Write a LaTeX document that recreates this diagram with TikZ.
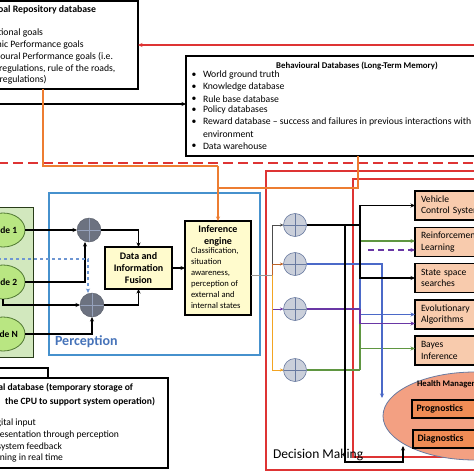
\documentclass[tikz,border=0pt]{standalone}
\usepackage{fontspec}
\setmainfont{Carlito}
\usetikzlibrary{arrows.meta,shapes.geometric}
\definecolor{cred}{RGB}{222,52,52}
\definecolor{corange}{RGB}{237,125,49}
\definecolor{cblue}{RGB}{70,145,205}
\definecolor{cpercep}{RGB}{70,115,185}
\definecolor{gfill}{RGB}{210,232,190}
\definecolor{gell}{RGB}{185,230,130}
\definecolor{gdark}{RGB}{80,120,50}
\definecolor{yfill}{RGB}{255,251,205}
\definecolor{sfill}{RGB}{248,203,173}
\definecolor{hfill}{RGB}{243,160,130}
\definecolor{pfill}{RGB}{240,140,85}
\definecolor{sumdark}{RGB}{108,114,128}
\definecolor{sumlight}{RGB}{202,207,218}
\definecolor{sumedge}{RGB}{105,122,160}
\definecolor{cgreen}{RGB}{95,150,65}
\definecolor{cpurple}{RGB}{105,55,165}
\definecolor{cbl}{RGB}{75,105,200}
\definecolor{cdash}{RGB}{110,150,210}
\definecolor{thingray}{RGB}{150,150,150}
\begin{document}
\begin{tikzpicture}[x=1pt,y=-1pt,
  every node/.style={inner sep=0pt, outer sep=0pt},
  bx/.style={draw=black, line width=1.2pt},
  ln/.style={line width=1.2pt},
  arr/.style={-{Stealth[length=4.5pt,width=4pt]}},
  sarr/.style={-{Stealth[length=3.5pt,width=3pt]}},
  fn/.style={font=\fontsize{9.7}{11.8}\selectfont},
  fnb/.style={font=\fontsize{9.7}{11.8}\selectfont\bfseries},
  nd/.style={ellipse, draw=gdark, line width=0.8pt, fill=gell, minimum width=44pt, minimum height=34pt, font=\fontsize{9.5}{11}\selectfont\bfseries},
  sumdk/.style={circle, fill=sumdark, draw=sumdark!80!black, minimum size=24pt,
    path picture={\draw[sumedge!70!white, line width=0.6pt] (path picture bounding box.north) -- (path picture bounding box.south) (path picture bounding box.west) -- (path picture bounding box.east);}},
  sumlt/.style={circle, fill=sumlight, draw=sumedge, line width=0.6pt, minimum size=23pt,
    path picture={\draw[sumedge, line width=0.6pt] (path picture bounding box.north) -- (path picture bounding box.south) (path picture bounding box.west) -- (path picture bounding box.east);}},
  dbox/.style={bx, fill=sfill, anchor=west, text width=68pt, inner xsep=6pt, minimum height=29pt, align=left, font=\fontsize{9.6}{11.6}\selectfont},
  pbox/.style={bx, fill=pfill, anchor=west, text width=70pt, inner xsep=4.5pt, minimum height=18pt, align=left, font=\fontsize{9.8}{11}\selectfont\bfseries}
]
\useasboundingbox (0,0) rectangle (474,474);
\clip (0,0) rectangle (474,474);

% ---------- frames ----------
\draw[cred, line width=1.5pt] (266,171) rectangle (480,470);
\draw[cred, line width=1.5pt] (353,179) rectangle (480,457);
\draw[cblue, line width=1.5pt] (49,193) rectangle (260,355);
\node[anchor=west, text=cpercep, font=\fontsize{14}{16}\selectfont\bfseries] (perc) at (55,342) {Perception};
\node[anchor=west, font=\fontsize{13.5}{16}\selectfont] (dm) at (273,455) {Decision Making};

% ---------- goal repository ----------
\node[bx, fill=white, minimum width=148pt, minimum height=88pt] (goal) at (64,45) {};
\node[anchor=east, font=\fontsize{9.8}{11.8}\selectfont\bfseries] (gt) at (96,10) {Goal Repository database};
\foreach \t/\y/\k in {Operational goals/33/1, Dynamic Performance goals/45/2, {Behavioural Performance goals (i.e.}/57/3, {traffic regulations, rule of the roads,}/69/4, {safety regulations)}/80/5}
  \node[anchor=west, fn] (g\k) at (-26,\y) {\t};

% ---------- behavioural databases ----------
\node[bx, fill=white, minimum width=294pt, minimum height=100pt] (beh) at (333,106) {};
\node[font=\fontsize{8.8}{11}\selectfont\bfseries] (bt) at (357,66) {Behavioural Databases (Long-Term Memory)};
\foreach \t/\y/\k in {World ground truth/75/1, Knowledge database/87/2, Rule base database/99/3, Policy databases/110/4, {Reward database -- success and failures in previous interactions with}/122/5, Data warehouse/146/7}{
  \node[fn] (bb\k) at (194,\y) {•};
  \node[anchor=west, fn] (bl\k) at (203,\y) {\t};
}
\node[anchor=west, fn] (bl6) at (203,134) {environment};

% ---------- temporal database ----------
\node[bx, fill=white, minimum width=58pt, minimum height=32pt] (tback) at (19,384) {};
\node[bx, fill=white, minimum width=178pt, minimum height=90pt] (tdb) at (79,423) {};
\node[anchor=east, font=\fontsize{9.6}{11.6}\selectfont\bfseries] (tt1) at (133,388) {Operational database (temporary storage of};
\node[anchor=east, font=\fontsize{9.6}{11.6}\selectfont\bfseries] (tt2) at (155,402) {information in\hspace{8pt}the CPU to support system operation)};
\node[anchor=east, font=\fontsize{9.6}{11.6}\selectfont] (tl1) at (36,423) {Digital input};
\node[anchor=east, font=\fontsize{9.6}{11.6}\selectfont] (tl2) at (119,435) {Representation through perception};
\node[anchor=east, font=\fontsize{9.6}{11.6}\selectfont] (tl3) at (62,447) {Subsystem feedback};
\node[anchor=east, font=\fontsize{9.6}{11.6}\selectfont] (tl4) at (63,458) {Learning in real time};

% ---------- sensors ----------
\node[draw=gdark!50!black, line width=1pt, fill=gfill, minimum width=43pt, minimum height=150pt] (sens) at (11.5,282) {};
\node[nd] (n1) at (3,230) {Node 1};
\node[nd] (n2) at (3,282) {Node 2};
\node[nd] (nN) at (3,334) {Node N};

% ---------- perception ----------
\node[sumdk] (sA) at (89,230) {};
\node[sumdk] (sB) at (92,305) {};
\node[bx, fill=yfill, minimum width=67pt, minimum height=42pt, align=center, font=\fontsize{10}{11.6}\selectfont\bfseries] (fus) at (138.5,268) {Data and\\Information\\Fusion};
\node[bx, fill=yfill, minimum width=66pt, minimum height=94pt] (inf) at (218,268) {};
\node[font=\fontsize{10}{11.8}\selectfont\bfseries, align=center] (inft) at (218,236) {Inference\\engine};
\node[anchor=north west, align=left, font=\fontsize{8.6}{10.9}\selectfont] (infb) at (191,248) {Classification,\\situation\\awareness,\\perception of\\external and\\internal states};

% ---------- decision making ----------
\node[sumlt] (d1) at (295,225) {};
\node[sumlt] (d2) at (295,264) {};
\node[sumlt] (d3) at (295,309) {};
\node[sumlt] (d4) at (295,370) {};
\node[dbox] (vcs) at (415,205.5) {Vehicle\\Control System};
\node[dbox] (rl) at (415,242) {Reinforcement\\Learning};
\node[dbox] (sss) at (415,278) {State space\\searches};
\node[dbox] (ea) at (415,314.5) {Evolutionary\\Algorithms};
\node[dbox] (bay) at (415,350.5) {Bayes\\Inference};
\node[ellipse, draw=sumedge, line width=0.8pt, fill=hfill, minimum width=184pt, minimum height=88pt] (hm) at (475,416) {};
\node[anchor=west, font=\fontsize{8.6}{10}\selectfont\bfseries] (hmt) at (417,384) {Health Management};
\node[pbox] (prog) at (412,409) {Prognostics};
\node[pbox] (diag) at (413,439) {Diagnostics};

% ---------- top connectors ----------
\coordinate (rR) at (480,45);
\draw[cred, line width=1.5pt, arr] (rR) -- (rR -| goal.east);
\coordinate (lA) at (-2,104);
\draw[ln, arr] (lA) -- (lA -| beh.west);
\coordinate (dl) at (-2,163);
\coordinate (dr) at (480,163);
\draw[cred, line width=1.5pt, dash pattern=on 10pt off 5pt] (dl) -- (dr);
\coordinate (oj) at (218,166);
\coordinate (oj2) at (218,188);
\draw[corange, ln] ([xshift=-21pt]goal.south) |- (oj);
\draw[corange, ln] ([xshift=25pt]beh.south) |- (oj2);
\draw[corange, ln, arr] (oj) -- (oj |- inf.north);

% ---------- perception connectors ----------
\draw[ln, arr] (n1.east) -- (sA.west);
\draw[ln, arr] (n2.east) -| ([xshift=-4pt]sA.south);
\draw[ln, arr] (n2.south) |- (sB.west);
\draw[ln, arr] (nN.east) -| (sB.south);
\coordinate (dsh) at (-2,259);
\draw[cdash, ln, dashed, arr] (dsh) -| ([xshift=-4pt]sB.north);
\draw[ln, arr] (sA.east) -| (fus.north);
\draw[ln, arr] (sB.east) -| (fus.south);
\draw[ln, arr] (fus.east) -- (inf.west);

% ---------- decision inputs ----------
\coordinate (jn) at (272,275);
\draw[thingray, line width=0.6pt] (jn -| inf.east) -- (jn);
\draw[thingray, line width=0.6pt] (jn) |- (d4.west);
\draw[black!70, line width=0.6pt, sarr] (jn) |- (d1.west);
\draw[corange!80!black, line width=0.6pt, sarr] (jn) |- (d2.west);
\draw[cpurple, line width=0.6pt, sarr] (jn) |- (d3.west);
\draw[corange!70!yellow, line width=0.6pt, sarr] (jn) |- (d4.west);

% ---------- decision outputs ----------
\coordinate (g1) at (360,370);
\draw[cgreen, ln] (d4.east) -- (g1);
\draw[cgreen, ln, arr] (g1) |- ([yshift=1pt]rl.west);
\draw[cgreen, ln, arr] (g1) |- ([yshift=2pt]bay.west);
\coordinate (ub) at (382,398);
\draw[cbl, ln, arr] (d2.east) -| (ub);
\coordinate (u0) at (360,264);
\draw[cbl, ln, arr] (u0) |- (ea.west);
\coordinate (p1) at (360,309);
\draw[cpurple, ln] (d3.east) -- (p1);
\draw[cpurple, ln, arr] (p1) |- ([yshift=-9pt]ea.west);
\coordinate (pd) at (368,250);
\draw[cpurple, ln, dash pattern=on 6pt off 4pt, arr] (pd) -- (pd -| rl.west);
\coordinate (b0) at (345,225);
\coordinate (b1) at (360,225);
\draw[ln] (d1.east) -- (b1);
\draw[ln, arr] (b1) |- (vcs.west);
\draw[ln, arr] (b1) |- (sss.west);
\coordinate (bl) at (345,462);
\coordinate (br) at (403,462);
\coordinate (he) at (403,446);
\draw[ln, arr] (b0) -- (bl) -- (br) -- (he);
\end{tikzpicture}
\end{document}
